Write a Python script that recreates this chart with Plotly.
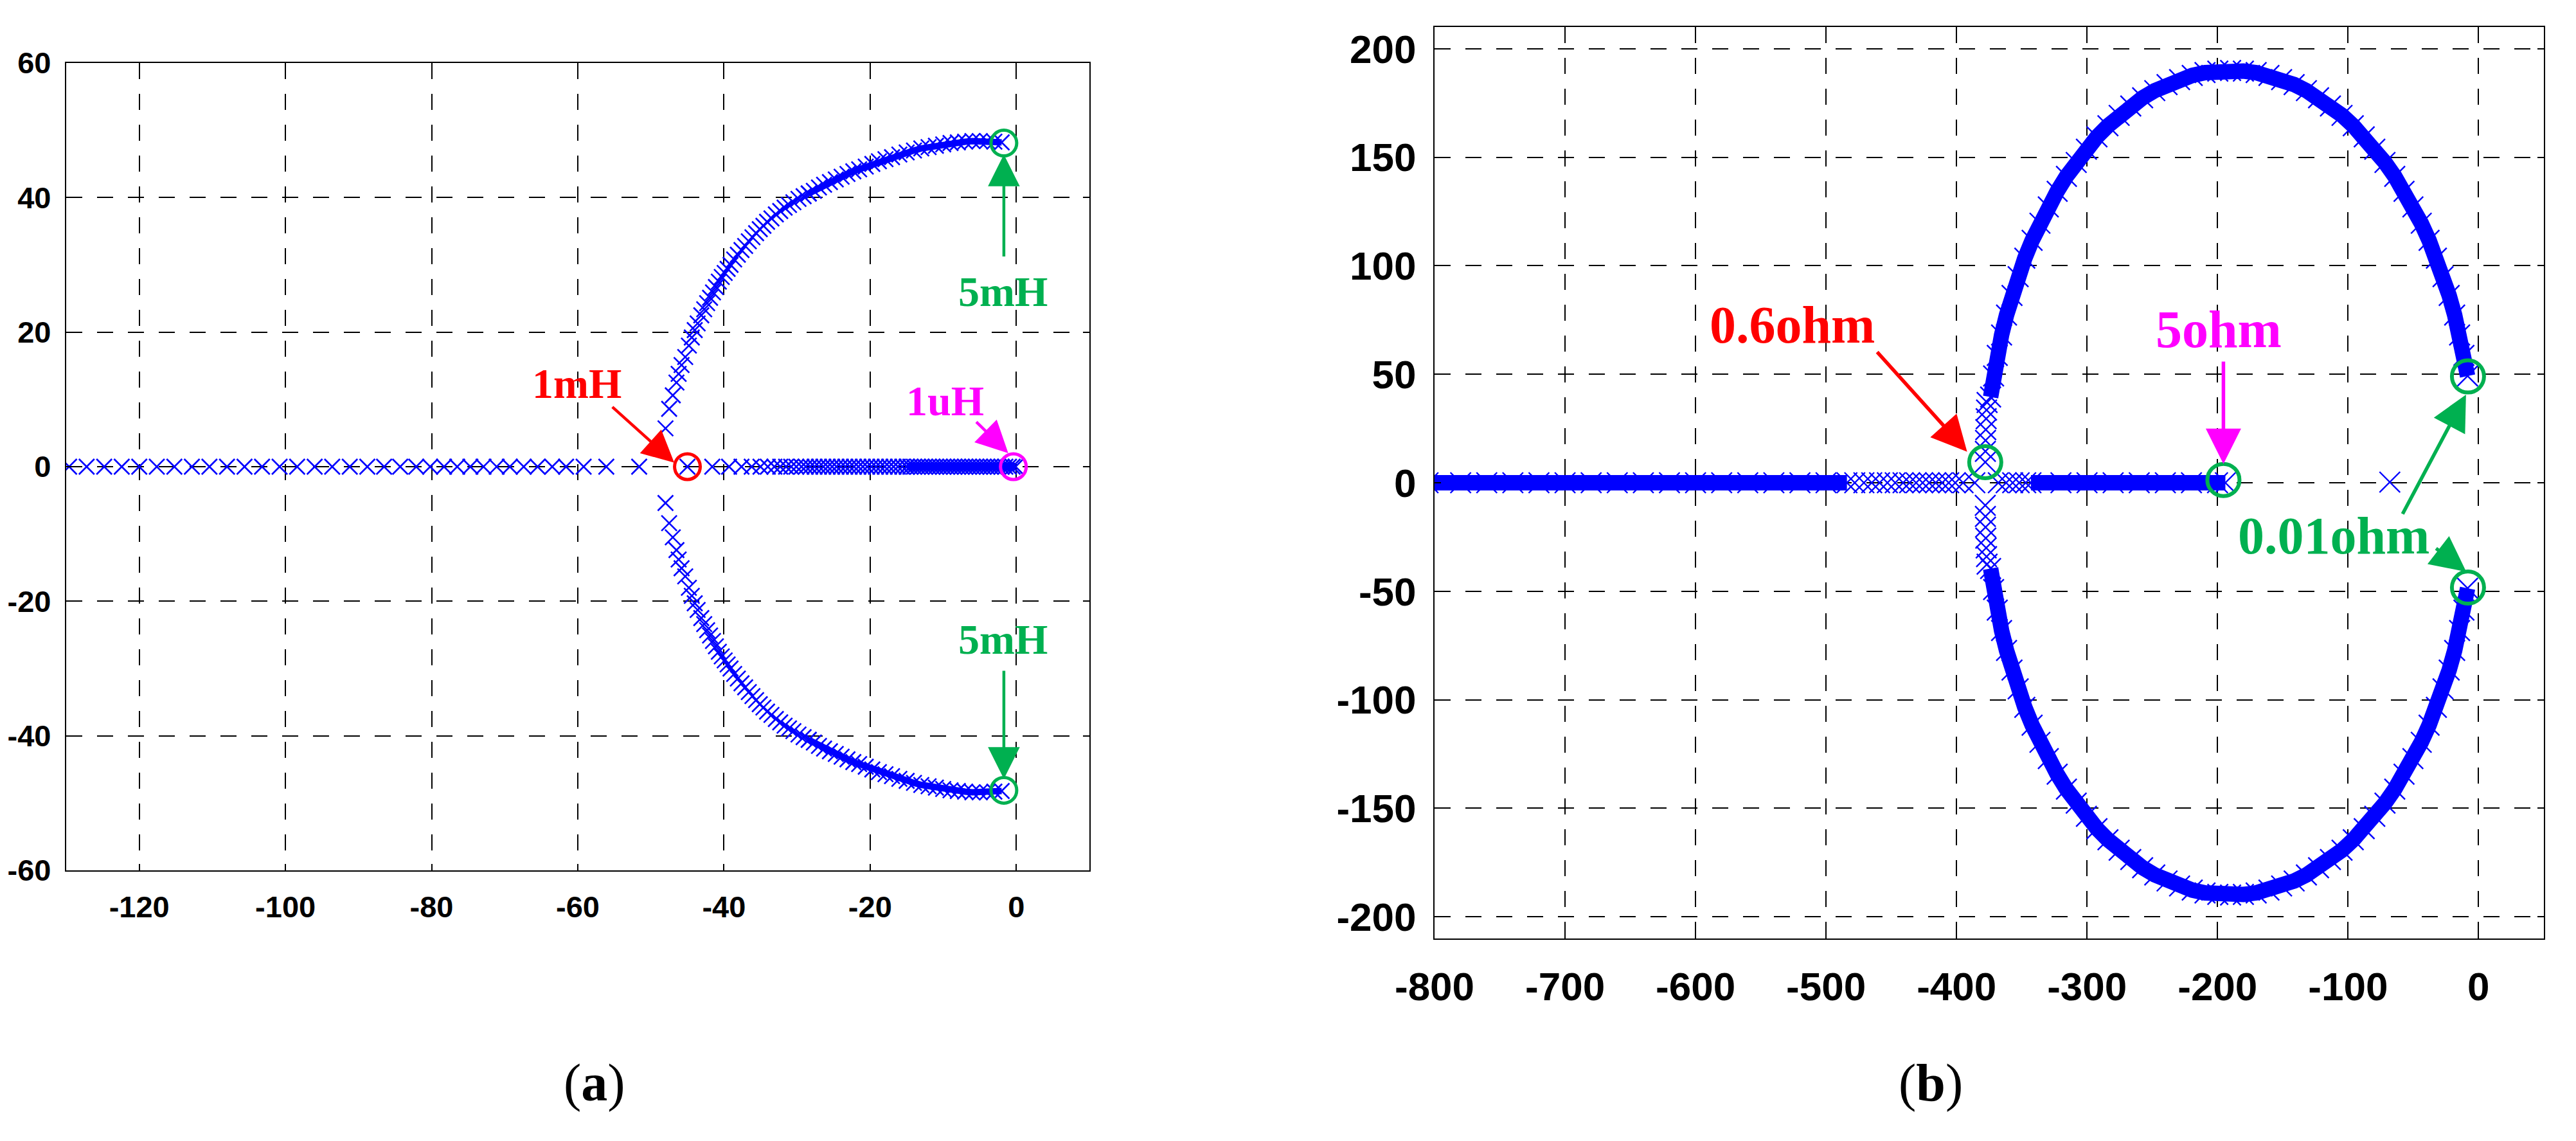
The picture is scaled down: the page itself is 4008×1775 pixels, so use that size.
import plotly.graph_objects as go

# ---------------- panel (a): root locus vs L ----------------
A_REAL_LEFT_X = [-129.6, -127.2, -124.8, -122.4, -120.0, -117.6, -115.2, -112.8, -110.4, -108.0,
                 -105.6, -103.2, -100.8, -98.4, -96.0, -93.6, -91.2, -88.8, -86.5, -84.3,
                 -82.1, -80.2, -78.3, -76.5, -74.7, -72.9, -71.1, -69.3, -67.4, -65.5,
                 -63.5, -61.6, -59.2, -56.1, -51.6]
A_REAL_RIGHT_X = [-45.0, -41.6, -39.3, -37.6, -36.2, -35.0, -34.0, -33.1, -32.3, -31.5,
                  -30.8, -30.1, -29.4, -28.8, -28.2, -27.6, -27.0, -26.4, -25.8, -25.2,
                  -24.6, -24.0, -23.4, -22.8, -22.2, -21.6, -21.0, -20.4, -19.8, -19.2,
                  -18.6, -18.0, -17.4, -16.8, -16.2, -15.6, -15.0, -14.5, -14.0, -13.5,
                  -13.0, -12.5, -12.0, -11.5, -11.0, -10.5, -10.0, -9.5, -9.0, -8.5,
                  -8.0, -7.5, -7.0, -6.5, -6.0, -5.5, -5.0, -4.5, -4.0, -3.5,
                  -3.0, -2.5, -2.0, -1.5, -1.0, -0.5, -0.1]
A_ARC_X = [-48.0, -47.5, -47.0, -46.5, -46.2, -45.8, -45.3, -44.8, -44.4, -44.0,
           -43.6, -43.1, -42.7, -42.3, -41.9, -41.5, -41.1, -40.7, -40.3, -39.9,
           -39.5, -39.1, -38.6, -38.1, -37.6, -37.1, -36.6, -36.1, -35.6, -35.1,
           -34.6, -34.1, -33.5, -32.9, -32.3, -31.7, -31.1, -30.5, -29.8, -29.1,
           -28.4, -27.7, -27.0, -26.3, -25.5, -24.7, -23.9, -23.1, -22.3, -21.5,
           -20.6, -19.7, -18.8, -17.9, -17.0, -16.0, -15.0, -14.0, -13.0, -12.0,
           -11.0, -10.0, -9.0, -8.0, -7.0, -6.0, -5.0, -4.0, -3.0, -2.0]
A_ARC_UPPER_Y = [5.7, 8.6, 10.6, 12.5, 13.8, 15.1, 16.3, 18.0, 19.2, 20.3,
                 21.3, 22.5, 23.4, 24.3, 25.1, 25.9, 26.7, 27.5, 28.2, 28.8,
                 29.4, 30.0, 30.8, 31.5, 32.2, 32.8, 33.5, 34.1, 34.7, 35.3,
                 35.8, 36.4, 36.9, 37.5, 38.0, 38.5, 38.9, 39.3, 39.8, 40.2,
                 40.6, 41.0, 41.5, 41.9, 42.3, 42.7, 43.1, 43.5, 43.9, 44.2,
                 44.6, 45.0, 45.4, 45.7, 46.0, 46.4, 46.7, 47.0, 47.3, 47.5,
                 47.7, 47.9, 48.1, 48.2, 48.3, 48.4, 48.4, 48.4, 48.3, 48.2]
A_ARC_LOWER_Y = [-5.4, -8.4, -10.5, -12.4, -13.8, -15.1, -16.3, -18.0, -19.2, -20.3,
                 -21.3, -22.5, -23.4, -24.3, -25.1, -25.9, -26.7, -27.5, -28.2, -28.8,
                 -29.4, -30.0, -30.8, -31.5, -32.2, -32.8, -33.5, -34.1, -34.7, -35.3,
                 -35.8, -36.4, -36.9, -37.5, -38.0, -38.5, -38.9, -39.3, -39.8, -40.2,
                 -40.6, -41.0, -41.5, -41.9, -42.3, -42.7, -43.1, -43.5, -43.9, -44.2,
                 -44.6, -45.0, -45.4, -45.7, -46.0, -46.4, -46.7, -47.0, -47.3, -47.5,
                 -47.7, -47.9, -48.1, -48.2, -48.3, -48.4, -48.4, -48.4, -48.3, -48.2]
A_MARK_X = [-45.0, -0.4, -1.7, -1.7]
A_MARK_Y = [0.0, 0.0, 48.1, -48.1]
A_MARK_COLORS = ["#FF0000", "#FF00FF", "#00B050", "#00B050"]
A_X_TICKS = [-120, -100, -80, -60, -40, -20, 0]
A_Y_TICKS = [-60, -40, -20, 0, 20, 40, 60]

# ---------------- panel (b): root locus vs R ----------------
B_REAL_LEFT_X = [-805, -780, -760, -740, -720, -700, -680, -660, -640, -620,
                 -600, -580, -560, -540, -520, -500, -484]
B_REAL_HATCH_X = [-478, -471, -465, -459, -453, -447, -441, -436, -431, -426,
                  -421, -416, -411, -406, -401, -395, -386, -368, -362, -357,
                  -352, -347]
B_REAL_RIGHT_X = [-343, -320, -300, -280, -260, -240, -220, -200, -194]
B_CROSS_X = [-378.0, -377.9, -377.8, -377.6, -377.3, -377.0, -376.6]
B_CROSS_UPPER_Y = [9.5, 14.5, 19.5, 24.5, 29.5, 33.5, 37.0]
B_CROSS_LOWER_Y = [-10.4, -15.5, -20.5, -25.5, -30.0, -34.0, -37.5]
B_ELL_X = [-373.9, -371.6, -368.8, -365.5, -361.7, -357.5, -352.8, -347.7, -342.1, -336.1,
           -329.7, -322.9, -315.8, -308.3, -300.5, -292.4, -284.0, -275.4, -266.5, -257.4,
           -248.1, -238.7, -229.1, -219.4, -209.6, -199.8, -190.0, -180.2, -170.4, -160.6,
           -150.9, -141.3, -131.9, -122.6, -113.5, -104.6, -96.0, -87.6, -79.5, -71.7,
           -64.2, -57.1, -50.3, -43.9, -37.9, -32.3, -27.2, -22.5, -18.3, -14.5,
           -11.2, -8.4]
B_ELL_UPPER_Y = [39.5, 49.2, 58.7, 68.1, 77.3, 86.3, 95.0, 103.5, 111.7, 119.6,
                 127.1, 134.3, 141.2, 147.6, 153.7, 159.4, 164.5, 169.3, 173.6, 177.4,
                 180.7, 183.5, 185.8, 187.7, 189.0, 189.7, 190.0, 189.7, 189.0, 187.7,
                 185.8, 183.5, 180.7, 177.4, 173.6, 169.3, 164.5, 159.4, 153.7, 147.6,
                 141.2, 134.3, 127.1, 119.6, 111.7, 103.5, 95.0, 86.3, 77.3, 68.1,
                 58.7, 49.2]
B_ELL_LOWER_Y = [-39.5, -49.2, -58.7, -68.1, -77.3, -86.3, -95.0, -103.5, -111.7, -119.6,
                 -127.1, -134.3, -141.2, -147.6, -153.7, -159.4, -164.5, -169.3, -173.6, -177.4,
                 -180.7, -183.5, -185.8, -187.7, -189.0, -189.7, -190.0, -189.7, -189.0, -187.7,
                 -185.8, -183.5, -180.7, -177.4, -173.6, -169.3, -164.5, -159.4, -153.7, -147.6,
                 -141.2, -134.3, -127.1, -119.6, -111.7, -103.5, -95.0, -86.3, -77.3, -68.1,
                 -58.7, -48.6]
B_LONE_X = [-68.0]
B_LONE_Y = [0.3]
B_MARK_X = [-378.0, -195.5, -8.1, -8.1]
B_MARK_Y = [9.5, 1.3, 49.0, -48.3]
B_X_TICKS = [-800, -700, -600, -500, -400, -300, -200, -100, 0]
B_Y_TICKS = [-200, -150, -100, -50, 0, 50, 100, 150, 200]

BLUE = "#0000FF"
RED = "#FF0000"
MAGENTA = "#FF00FF"
GREEN = "#00B050"
SERIF = "Liberation Serif"
SANS = "Liberation Sans"

fig = go.Figure()


def xmarks(x, y, size, lw, xa="x", ya="y", line_w=None):
    mode = "markers" if line_w is None else "lines+markers"
    return go.Scatter(
        x=x, y=y, mode=mode, xaxis=xa, yaxis=ya, cliponaxis=True,
        line=dict(color=BLUE, width=line_w or 0),
        marker=dict(symbol="x-thin", size=size, color=BLUE, line=dict(color=BLUE, width=lw)),
        hoverinfo="skip",
    )


# panel (a): sparse parts as single crosses, dense parts get a solid core
n_zero_a = [0.0] * len(A_REAL_RIGHT_X)
fig.add_trace(xmarks(A_REAL_LEFT_X, [0.0] * len(A_REAL_LEFT_X), 24, 2.6))
fig.add_trace(xmarks(A_REAL_RIGHT_X[:37], n_zero_a[:37], 24, 2.6))
fig.add_trace(xmarks(A_REAL_RIGHT_X[36:], n_zero_a[36:], 24, 2.6, line_w=12))
fig.add_trace(xmarks(A_ARC_X[:41], A_ARC_UPPER_Y[:41], 24, 2.6))
fig.add_trace(xmarks(A_ARC_X[40:], A_ARC_UPPER_Y[40:], 24, 2.6, line_w=10))
fig.add_trace(xmarks(A_ARC_X[:41], A_ARC_LOWER_Y[:41], 24, 2.6))
fig.add_trace(xmarks(A_ARC_X[40:], A_ARC_LOWER_Y[40:], 24, 2.6, line_w=10))
fig.add_trace(go.Scatter(
    x=A_MARK_X, y=A_MARK_Y, mode="markers", hoverinfo="skip",
    marker=dict(symbol="circle-open", size=40, color=A_MARK_COLORS,
                line=dict(color=A_MARK_COLORS, width=5)),
))

# panel (b)
fig.add_trace(xmarks(B_REAL_LEFT_X, [0.0] * len(B_REAL_LEFT_X), 32, 2.4, "x2", "y2", line_w=24))
fig.add_trace(xmarks(B_REAL_HATCH_X, [0.0] * len(B_REAL_HATCH_X), 32, 2.4, "x2", "y2"))
fig.add_trace(xmarks(B_REAL_RIGHT_X, [0.0] * len(B_REAL_RIGHT_X), 32, 2.4, "x2", "y2", line_w=24))
fig.add_trace(xmarks(B_CROSS_X, B_CROSS_UPPER_Y, 32, 2.4, "x2", "y2"))
fig.add_trace(xmarks(B_CROSS_X, B_CROSS_LOWER_Y, 32, 2.4, "x2", "y2"))
fig.add_trace(xmarks(B_ELL_X, B_ELL_UPPER_Y, 32, 2.4, "x2", "y2", line_w=24))
fig.add_trace(xmarks(B_ELL_X, B_ELL_LOWER_Y, 32, 2.4, "x2", "y2", line_w=24))
fig.add_trace(xmarks(B_LONE_X, B_LONE_Y, 32, 2.4, "x2", "y2"))
fig.add_trace(go.Scatter(
    x=B_MARK_X, y=B_MARK_Y, mode="markers", xaxis="x2", yaxis="y2", hoverinfo="skip",
    marker=dict(symbol="circle-open", size=50, color=GREEN, line=dict(color=GREEN, width=6)),
))


def axis_style(domain, rng, ticks, font_size, standoff, anchor):
    return dict(
        domain=domain, range=rng, anchor=anchor, automargin=False,
        tickvals=ticks, ticktext=[str(t) for t in ticks],
        tickfont=dict(family=SANS, size=font_size, color="black", weight="bold"),
        ticks="inside", ticklen=10, tickwidth=1.5, tickcolor="black",
        ticklabelstandoff=standoff,
        showline=True, linecolor="black", linewidth=2.2, mirror="ticks",
        showgrid=True, gridcolor="black", gridwidth=1.6, griddash="25px,23px",
        zeroline=False, fixedrange=True,
    )


annotations = []


def label(text, x, y, color, size, xref="x", yref="y"):
    annotations.append(dict(
        text="<b>" + text + "</b>", x=x, y=y, xref=xref, yref=yref, showarrow=False,
        font=dict(family=SERIF, size=size, color=color), xanchor="center", yanchor="middle",
    ))


def arrow(tail, tip, color, xref="x", yref="y", width=4.5, head=2.2):
    annotations.append(dict(
        text="", x=tip[0], y=tip[1], ax=tail[0], ay=tail[1],
        xref=xref, yref=yref, axref=xref, ayref=yref,
        showarrow=True, arrowhead=2, arrowsize=head, arrowwidth=width, arrowcolor=color,
        standoff=0, startstandoff=0,
    ))


# annotations (a)
label("1mH", -60.1, 12.4, RED, 66)
arrow((-55.4, 9.0), (-46.8, 0.6), RED)
label("1uH", -9.7, 9.8, MAGENTA, 66)
arrow((-5.6, 6.8), (-1.1, 2.0), MAGENTA)
label("5mH", -1.8, 26.0, GREEN, 66)
arrow((-1.7, 31.1), (-1.7, 46.4), GREEN)
label("5mH", -1.8, -25.7, GREEN, 66)
arrow((-1.7, -30.2), (-1.7, -46.4), GREEN)

# annotations (b)
label("0.6ohm", -526.0, 72.8, RED, 82, "x2", "y2")
arrow((-461.5, 60.7), (-391.9, 14.3), RED, "x2", "y2", 5.5, 2.0)
label("5ohm", -199.0, 70.8, MAGENTA, 82, "x2", "y2")
arrow((-195.5, 56.3), (-195.5, 8.7), MAGENTA, "x2", "y2", 5.5, 2.0)
label("0.01ohm", -110.9, -24.5, GREEN, 82, "x2", "y2")
arrow((-58.6, -14.8), (-9.6, 40.6), GREEN, "x2", "y2", 5.5, 2.0)
arrow((-33.3, -29.9), (-9.4, -41.0), GREEN, "x2", "y2", 5.5, 2.0)

# sub-figure captions
annotations.append(dict(text="(<b>a</b>)", x=0.2163, y=0.029, xref="paper", yref="paper",
                        showarrow=False, font=dict(family=SERIF, size=82, color="black")))
annotations.append(dict(text="(<b>b</b>)", x=0.7605, y=0.029, xref="paper", yref="paper",
                        showarrow=False, font=dict(family=SERIF, size=82, color="black")))

fig.update_layout(
    width=4008, height=1775,
    margin=dict(l=0, r=0, t=0, b=0, autoexpand=False),
    paper_bgcolor="white", plot_bgcolor="white",
    showlegend=False,
    xaxis=axis_style([0.0237, 0.4209], [-130, 10], A_X_TICKS, 47, 15, "y"),
    yaxis=axis_style([0.2417, 0.9493], [-60, 60], A_Y_TICKS, 47, 12, "x"),
    xaxis2=axis_style([0.5549, 0.9855], [-800, 50], B_X_TICKS, 62, 20, "y2"),
    yaxis2=axis_style([0.1820, 0.9808], [-210, 210], B_Y_TICKS, 62, 14, "x2"),
    annotations=annotations,
)

fig.write_html("out.html")
